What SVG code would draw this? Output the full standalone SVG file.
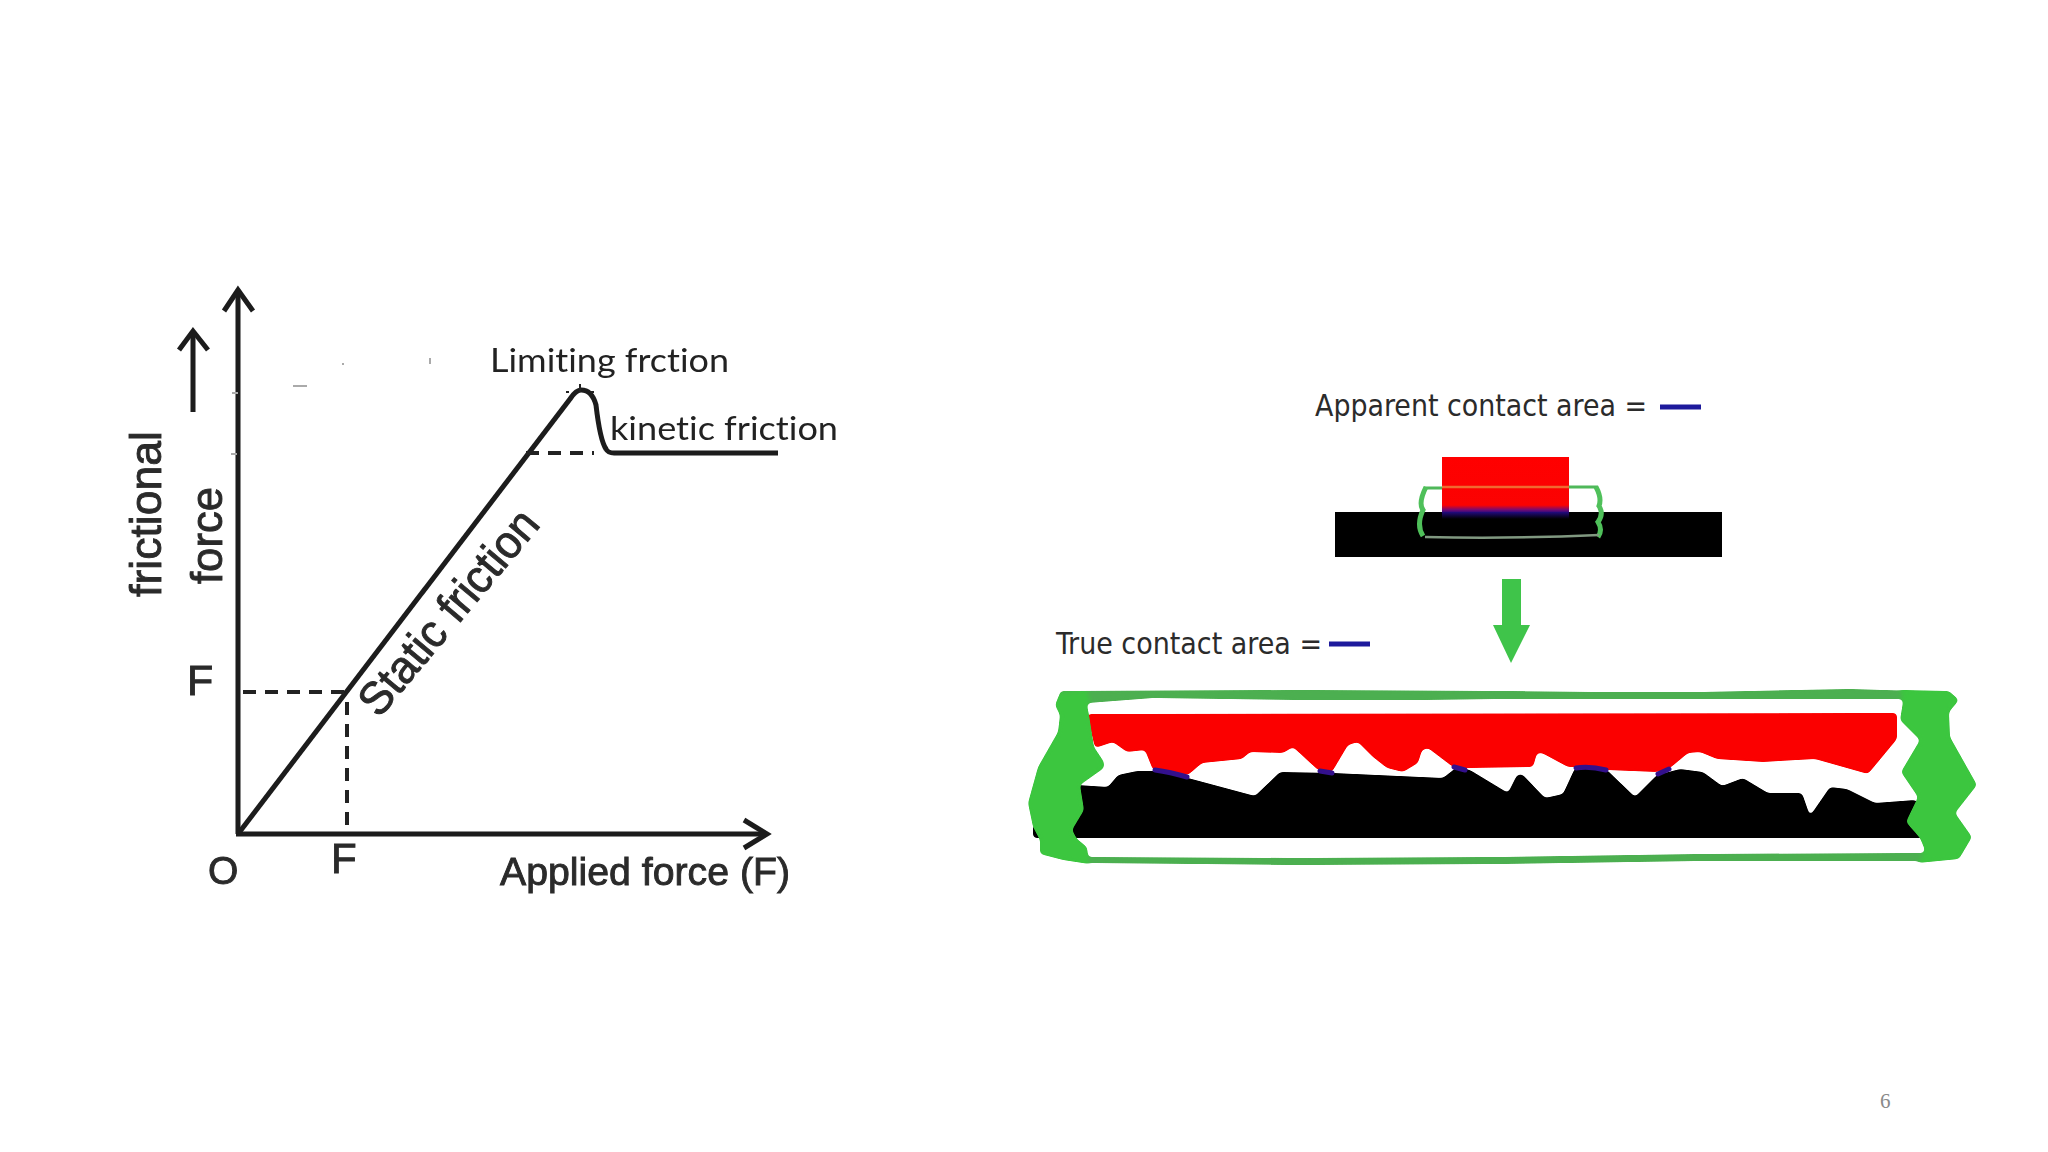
<svg xmlns="http://www.w3.org/2000/svg" width="2048" height="1152" viewBox="0 0 2048 1152">
<defs>
<style>
.ink{fill:none;stroke:#1c1c1c;stroke-width:5}
.dash{fill:none;stroke:#222;stroke-width:4;stroke-dasharray:13 9}
.scan{font-family:"Liberation Sans",Arial,sans-serif;fill:#2a2a2a;stroke:#2a2a2a;stroke-width:.9}
.label{font-family:Lato,"Open Sans",sans-serif;fill:#222;font-size:33px;font-variant-ligatures:none}
.cond{font-family:"DejaVu Sans",sans-serif;font-stretch:condensed;fill:#2b2b2b;font-size:30px}
.blue{stroke:#1d1a9c;stroke-width:5;fill:none}
.contact{stroke:#33108c;stroke-width:5;fill:none;stroke-linecap:round}
</style>
<linearGradient id="blk" x1="0" y1="0" x2="0" y2="1">
<stop offset="0" stop-color="#ff0000"/><stop offset=".86" stop-color="#fb0202"/><stop offset=".94" stop-color="#7a0a70"/><stop offset="1" stop-color="#220a80"/>
</linearGradient>
<linearGradient id="fade" x1="0" y1="0" x2="0" y2="1">
<stop offset="0" stop-color="#220a80"/><stop offset="1" stop-color="#000"/>
</linearGradient>
<filter id="scanblur" x="-5%" y="-5%" width="110%" height="110%"><feGaussianBlur stdDeviation=".6"/></filter>
<filter id="soft" x="-5%" y="-5%" width="110%" height="110%" color-interpolation-filters="sRGB">
<feGaussianBlur stdDeviation="2"/>
<feColorMatrix type="matrix" values="1 0 0 0 0 0 1 0 0 0 0 0 1 0 0 0 0 0 7 -3"/>
<feGaussianBlur stdDeviation=".5"/>
</filter>
</defs>
<rect width="2048" height="1152" fill="#ffffff"/>

<g id="graph" filter="url(#scanblur)">
<g id="connectors">
<path class="ink" d="M238 834V290"/>
<path class="ink" d="M224 311L238 290L253 311"/>
<path class="ink" d="M236 834H767"/>
<path class="ink" d="M744 820L767 834L744 848"/>
<path class="ink" stroke-width="4" d="M193 412V332"/>
<path class="ink" d="M179 350L193 331L208 350"/>
<path class="ink" d="M238 834L570 399Q576 390 581 390Q592 390 596 405Q600 440 606 449Q608 453 614 453H778"/>
<path class="dash" d="M526 453H594"/>
<path class="dash" d="M243 692H345"/>
<path class="dash" d="M347 702V834"/>
<path d="M580 384V392M566 392h3M591 392h3" stroke="#222" stroke-width="2" fill="none"/>
</g>
<path d="M342 364h2M430 358v6M293 386h14M232 393h6M231 454h6" stroke="#aaa" stroke-width="2" fill="none"/>
<text class="scan" font-size="44" transform="translate(161 597) rotate(-90)" textLength="166" lengthAdjust="spacingAndGlyphs">frictional</text>
<text class="scan" font-size="44" transform="translate(222 584) rotate(-90)" textLength="97" lengthAdjust="spacingAndGlyphs">force</text>
<text class="scan" font-size="43" x="187" y="695">F</text>
<text class="scan" font-size="42" x="331" y="873">F</text>
<text class="scan" font-size="39" x="208" y="884" stroke-width=".2">O</text>
<text class="scan" font-size="39" x="500" y="885" textLength="290" lengthAdjust="spacingAndGlyphs">Applied force (F)</text>
<text class="scan" font-size="46" transform="translate(379 719) rotate(-50)" textLength="253" lengthAdjust="spacingAndGlyphs">Static friction</text>
<text class="label" x="490" y="372" textLength="239" lengthAdjust="spacingAndGlyphs">Limiting frction</text>
<text class="label" x="610" y="440" textLength="228" lengthAdjust="spacingAndGlyphs">kinetic friction</text>
</g>

<g id="apparent">
<text class="cond" x="1315" y="416" textLength="332" lengthAdjust="spacingAndGlyphs">Apparent contact area =</text>
<path class="blue" d="M1660 407H1701"/>
<rect x="1442" y="457" width="127" height="56" fill="url(#blk)"/>
<rect x="1335" y="512" width="387" height="45" fill="#000"/>
<rect x="1442" y="512" width="127" height="7" fill="url(#fade)"/>
<path d="M1442 487H1569" stroke="#f06a30" stroke-width="2.5" fill="none"/>
<path d="M1424 488H1442M1569 487H1598" stroke="#4fb85a" stroke-width="3" fill="none"/>
<path d="M1426 487Q1418 503 1423 510Q1416 525 1423 536" stroke="#4fc05a" stroke-width="5" fill="none"/>
<path d="M1596 487Q1602 498 1599 506Q1604 514 1598 522Q1603 530 1598 537" stroke="#4fc05a" stroke-width="5" fill="none"/>
<path d="M1425 537Q1510 539 1599 535" stroke="#809880" stroke-width="2.5" fill="none"/>
</g>

<g id="arrow-down">
<path d="M1502 579H1521V625H1530L1511 663L1493 625H1502Z" fill="#3fc44a"/>
</g>

<g id="true-contact">
<text class="cond" x="1056" y="654" textLength="266" lengthAdjust="spacingAndGlyphs">True contact area =</text>
<path class="blue" d="M1329 644H1370"/>
<polygon filter="url(#soft)" fill="#000" points="1033,838 1033,826 1060,800 1077,785 1108,787 1118,775 1137,771 1153,771 1188,778 1255,796 1280,772 1333,773 1443,778 1457,767 1470,770 1508,793 1517,775 1522,774 1545,798 1563,794 1575,768 1607,770 1635,797 1657,775 1680,769 1703,772 1722,786 1743,778 1768,793 1802,793 1810,816 1830,787 1847,789 1875,803 1915,800 1930,810 1925,838"/>
<polygon filter="url(#soft)" fill="#fb0000" points="1087,714 1897,713 1897,739 1868,774 1815,759 1763,762 1717,759 1700,752 1688,753 1670,768 1657,772 1607,770 1577,767 1568,767 1542,753 1537,753 1533,767 1467,768 1453,767 1428,748 1422,750 1418,763 1403,772 1387,768 1373,757 1358,742 1348,745 1332,772 1318,770 1293,747 1283,753 1250,752 1242,759 1202,763 1188,775 1153,770 1145,750 1127,752 1113,742 1095,748"/>
<path class="contact" d="M1155 770Q1170 772 1187 777M1320 771L1332 773M1454 767L1465 770M1576 768Q1590 766 1606 770M1658 774L1669 769"/>
<g filter="url(#soft)">
<path fill="#4caf50" d="M1060 691L1300 690L1500 691L1600 692L1700 692L1850 689L1950 692L1947 699L1900 699L1700 699L1600 699L1500 699L1420 700L1300 700L1153 698L1088 703L1060 705Z"/>
<path fill="#4caf50" d="M1060 857L1087 857L1300 858L1500 857L1700 854L1920 853L1950 856L1925 861L1700 861L1500 864L1300 865L1087 863Z"/>
<polygon fill="#3cc63f" points="1060,693 1055,705 1060,715 1058,732 1038,767 1028,803 1033,827 1040,840 1040,854 1063,860 1089,864 1087,847 1077,839 1072,830 1084,810 1080,785 1104,768 1104,762 1094,747 1089,715 1087,705 1090,700 1087,691"/>
<polygon fill="#3cc63f" points="1900,690 1949,691 1959,700 1949,712 1950,737 1977,785 1955,813 1972,837 1959,859 1918,863 1925,850 1920,838 1906,822 1918,797 1901,772 1920,740 1900,720 1903,702"/>
</g>
</g>

<text x="1880" y="1108" font-family="Liberation Serif, serif" font-size="21" fill="#8a8a8a">6</text>
</svg>
